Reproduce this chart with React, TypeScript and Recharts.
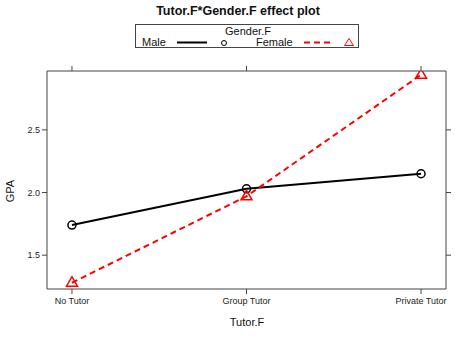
import React from 'react';
import { LineChart, Line, XAxis, YAxis } from 'recharts';

const tutorLevels = ['No Tutor', 'Group Tutor', 'Private Tutor'];
const maleGPA = [1.74, 2.03, 2.15];
const femaleGPA = [1.28, 1.97, 2.94];
const gpaTicks = [1.5, 2.0, 2.5];

const FONT = '"Liberation Sans", Arial, sans-serif';
const BOX = '#444';
const RED = '#ff0000';

document.body.style.margin = '0';

const rows = tutorLevels.map((name, i) => ({ x: i, name, male: maleGPA[i], female: femaleGPA[i] }));

const emptyTick = () => <g />;

const CircleDot = (props: any) => {
    const { cx, cy } = props;
    return <circle cx={cx} cy={cy} r={4} fill="none" stroke="#000" strokeWidth={1.5} />;
};

const TriangleDot = (props: any) => {
    const { cx, cy } = props;
    const pts = `${cx - 5.5},${cy + 3.5} ${cx + 5.5},${cy + 3.5} ${cx},${cy - 6}`;
    return <polygon points={pts} fill="none" stroke={RED} strokeWidth={1.5} />;
};

export default function App() {
    return (
        <div style={{ position: 'relative', width: 474, height: 338, fontFamily: FONT, background: '#fff' }}>
            <LineChart width={474} height={338} data={rows} margin={{ top: 0, right: 0, bottom: 0, left: 0 }}>
                <XAxis
                    xAxisId="bottom"
                    dataKey="x"
                    type="number"
                    domain={[-0.143, 2.143]}
                    ticks={[0, 1, 2]}
                    allowDataOverflow
                    height={49}
                    tickFormatter={(v: number) => tutorLevels[v]}
                    tick={{ fontSize: 9, fill: '#222', fontFamily: FONT }}
                    tickSize={5}
                    tickMargin={4}
                    stroke={BOX}
                />
                <XAxis
                    xAxisId="top"
                    orientation="top"
                    dataKey="x"
                    type="number"
                    domain={[-0.143, 2.143]}
                    ticks={[0, 1, 2]}
                    allowDataOverflow
                    height={71}
                    tick={emptyTick}
                    tickSize={5}
                    stroke={BOX}
                />
                <YAxis
                    yAxisId="left"
                    type="number"
                    domain={[1.23, 2.97]}
                    ticks={gpaTicks}
                    allowDataOverflow
                    width={47}
                    tickFormatter={(v: number) => v.toFixed(1)}
                    tick={{ fontSize: 9, fill: '#222', fontFamily: FONT }}
                    tickSize={5}
                    tickMargin={2}
                    stroke={BOX}
                />
                <YAxis
                    yAxisId="right"
                    orientation="right"
                    type="number"
                    domain={[1.23, 2.97]}
                    ticks={gpaTicks}
                    allowDataOverflow
                    width={28}
                    tick={emptyTick}
                    tickSize={5}
                    stroke={BOX}
                />
                <Line
                    xAxisId="bottom"
                    yAxisId="left"
                    dataKey="male"
                    type="linear"
                    stroke="#000"
                    strokeWidth={2}
                    dot={CircleDot}
                    activeDot={false}
                    isAnimationActive={false}
                />
                <Line
                    xAxisId="bottom"
                    yAxisId="left"
                    dataKey="female"
                    type="linear"
                    stroke={RED}
                    strokeWidth={2}
                    strokeDasharray="6 4"
                    dot={TriangleDot}
                    activeDot={false}
                    isAnimationActive={false}
                />
            </LineChart>

            <div style={{ position: 'absolute', left: 0, width: 476, top: 4, textAlign: 'center', fontWeight: 'bold', fontSize: 12.5, color: '#111' }}>
                Tutor.F*Gender.F effect plot
            </div>

            <div style={{ position: 'absolute', left: 135, top: 24, width: 224, height: 24, border: `1px solid ${BOX}`, boxSizing: 'border-box' }}>
                <div style={{ position: 'absolute', left: 0, width: 224, top: 0, textAlign: 'center', fontSize: 11, color: '#111', lineHeight: '13px' }}>Gender.F</div>
                <div style={{ position: 'absolute', left: 6, top: 11, fontSize: 11, color: '#111', lineHeight: '13px' }}>Male</div>
                <svg style={{ position: 'absolute', left: -1, top: -1 }} width={224} height={24}>
                    <line x1={42} x2={72} y1={18.5} y2={18.5} stroke="#000" strokeWidth={2} />
                    <circle cx={89} cy={19} r={2.5} fill="none" stroke="#000" strokeWidth={1} />
                    <line x1={169} x2={199} y1={18.5} y2={18.5} stroke={RED} strokeWidth={2} strokeDasharray="6 4" />
                    <polygon points="209.5,21.5 218.5,21.5 214,14.5" fill="none" stroke={RED} strokeWidth={1} />
                </svg>
                <div style={{ position: 'absolute', left: 120, top: 11, fontSize: 11, color: '#111', lineHeight: '13px' }}>Female</div>
            </div>

            <div style={{ position: 'absolute', left: 0, width: 494, top: 316, textAlign: 'center', fontSize: 11, color: '#111' }}>
                Tutor.F
            </div>

            <div style={{ position: 'absolute', left: -10, top: 185, width: 40, textAlign: 'center', fontSize: 11, color: '#111', transform: 'rotate(-90deg)' }}>
                GPA
            </div>
        </div>
    );
}
